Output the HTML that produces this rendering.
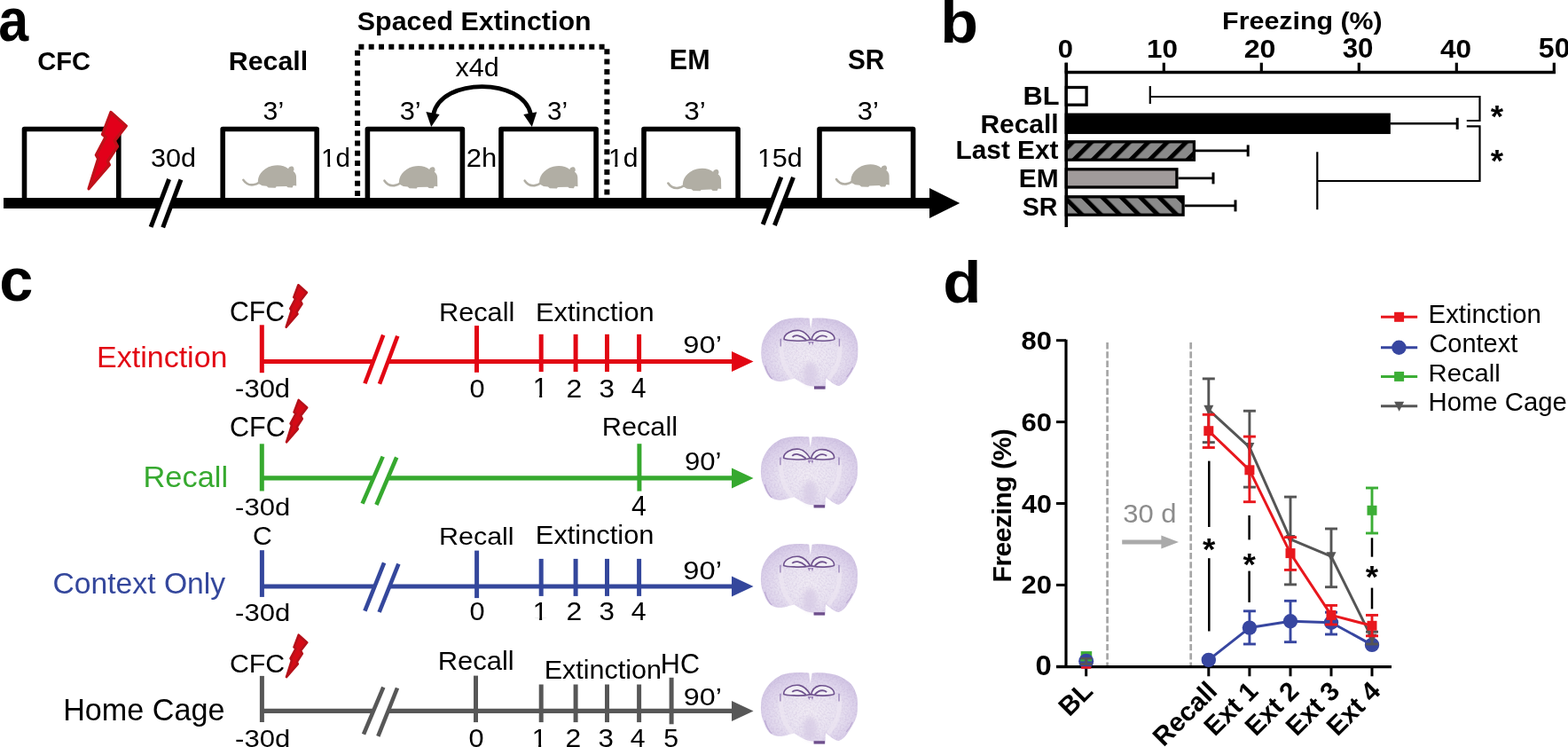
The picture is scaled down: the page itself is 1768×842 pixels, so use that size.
<!DOCTYPE html>
<html><head><meta charset="utf-8"><title>Figure</title>
<style>html,body{margin:0;padding:0;background:#fff;overflow:hidden;}svg{display:block;}text{font-family:"Liberation Sans", Arial, Helvetica, sans-serif;}</style>
</head><body>
<svg width="1768" height="842" viewBox="0 0 1768 842">
<rect width="1768" height="842" fill="#fff"/>
<defs><radialGradient id="brainGrad" cx="0.5" cy="0.55" r="0.58"><stop offset="0" stop-color="#f0ebf4"/><stop offset="0.5" stop-color="#e9e3f1"/><stop offset="0.8" stop-color="#ddd3eb"/><stop offset="1" stop-color="#d2c6e4"/></radialGradient><filter id="soft" x="-5%" y="-5%" width="110%" height="110%"><feGaussianBlur stdDeviation="0.7"/></filter><filter id="tex" x="0" y="0" width="100%" height="100%" color-interpolation-filters="sRGB"><feTurbulence type="fractalNoise" baseFrequency="0.5" numOctaves="2" seed="3" result="n"/><feColorMatrix in="n" type="matrix" values="0 0 0 0 0.62  0 0 0 0 0.52  0 0 0 0 0.74  0 0 0 1.6 -0.62" result="c"/><feComposite in="c" in2="SourceGraphic" operator="in"/></filter><filter id="soft2" x="-50%" y="-50%" width="200%" height="200%"><feGaussianBlur stdDeviation="2.5"/></filter></defs>
<text transform="translate(-1.83,46.20) scale(0.887,1)" x="0" y="0" font-size="68.70" font-weight="bold" fill="#000">a</text>
<text transform="translate(42.13,78.90) scale(0.962,1)" x="0" y="0" font-size="30.29" font-weight="bold" fill="#000">CFC</text>
<text transform="translate(257.83,79.10) scale(1.019,1)" x="0" y="0" font-size="29.79" font-weight="bold" fill="#000">Recall</text>
<text transform="translate(402.79,33.70) scale(1.012,1)" x="0" y="0" font-size="30.07" font-weight="bold" fill="#000">Spaced Extinction</text>
<text transform="translate(754.81,78.30) scale(0.963,1)" x="0" y="0" font-size="31.74" font-weight="bold" fill="#000">EM</text>
<text transform="translate(956.01,78.30) scale(0.951,1)" x="0" y="0" font-size="31.29" font-weight="bold" fill="#000">SR</text>
<text transform="translate(169.88,187.60) scale(1.036,1)" x="0" y="0" font-size="29.52" fill="#000">30d</text>
<clipPath id="nf1" clipPathUnits="userSpaceOnUse"><rect x="-29.79" y="-59.59" width="238.34" height="56.61"/><rect x="7.30" y="-59.59" width="2.98" height="74.48"/><rect x="16.68" y="-59.59" width="238.34" height="74.48"/></clipPath>
<text transform="translate(362.08,188.00) scale(0.993,1)" x="0" y="0" font-size="29.79" fill="#000" clip-path="url(#nf1)">1d</text>
<text transform="translate(525.75,188.40) scale(1.054,1)" x="0" y="0" font-size="29.38" fill="#000">2h</text>
<clipPath id="nf2" clipPathUnits="userSpaceOnUse"><rect x="-29.52" y="-59.03" width="236.14" height="56.08"/><rect x="7.23" y="-59.03" width="2.95" height="73.79"/><rect x="16.53" y="-59.03" width="236.14" height="73.79"/></clipPath>
<text transform="translate(685.94,188.00) scale(1.020,1)" x="0" y="0" font-size="29.52" fill="#000" clip-path="url(#nf2)">1d</text>
<clipPath id="nf3" clipPathUnits="userSpaceOnUse"><rect x="-29.52" y="-59.03" width="354.21" height="56.08"/><rect x="7.23" y="-59.03" width="2.95" height="73.79"/><rect x="16.53" y="-59.03" width="354.21" height="73.79"/></clipPath>
<text transform="translate(853.92,188.00) scale(1.031,1)" x="0" y="0" font-size="29.52" fill="#000" clip-path="url(#nf3)">15d</text>
<text transform="translate(296.59,135.40) scale(1.017,1)" x="0" y="0" font-size="29.71" fill="#000">3’</text>
<text transform="translate(450.67,135.40) scale(1.037,1)" x="0" y="0" font-size="29.71" fill="#000">3’</text>
<text x="617.00" y="135.40" font-size="29.71" fill="#000">3’</text>
<text transform="translate(771.24,135.40) scale(1.062,1)" x="0" y="0" font-size="29.71" fill="#000">3’</text>
<text transform="translate(966.76,135.40) scale(1.042,1)" x="0" y="0" font-size="29.71" fill="#000">3’</text>
<text transform="translate(513.44,85.90) scale(1.049,1)" x="0" y="0" font-size="29.10" fill="#000">x4d</text>
<path d="M27.5,226 L27.5,145.5 L133.8,145.5 L133.8,226" fill="none" stroke="#000" stroke-width="5.6" stroke-linejoin="round"/>
<path d="M251.2,226 L251.2,145.5 L357.2,145.5 L357.2,226" fill="none" stroke="#000" stroke-width="5.6" stroke-linejoin="round"/>
<path d="M414.4,226 L414.4,145.5 L521.4,145.5 L521.4,226" fill="none" stroke="#000" stroke-width="5.6" stroke-linejoin="round"/>
<path d="M565.0,226 L565.0,145.5 L672.1,145.5 L672.1,226" fill="none" stroke="#000" stroke-width="5.6" stroke-linejoin="round"/>
<path d="M726.0,226 L726.0,145.5 L832.1,145.5 L832.1,226" fill="none" stroke="#000" stroke-width="5.6" stroke-linejoin="round"/>
<path d="M924.0,226 L924.0,145.5 L1029.6,145.5 L1029.6,226" fill="none" stroke="#000" stroke-width="5.6" stroke-linejoin="round"/>
<g transform="translate(273.6,185.7) scale(1.0)"><path d="M0.8,17.2 Q5,23.5 12,22.6 Q16,22 18.5,20" fill="none" stroke="#b1aea4" stroke-width="2.6" stroke-linecap="round"/><path d="M17.5,21 C16,13 22,4 33,1.2 C40,-0.5 47,0.6 51.5,4.5 C52,1.5 56.5,0.8 57.5,3.2 C58.3,5 57.8,6.5 57,7.2 C59,8.5 60.2,10.5 60.4,13 L60.6,23.8 L57.2,23.2 L56,25.8 L51,25.6 L49.5,24.2 L38,24.6 L37,26 L29,25.8 L27,24 L22,23.5 Z" fill="#b1aea4"/></g>
<g transform="translate(432.7,186.5) scale(1.0)"><path d="M0.8,17.2 Q5,23.5 12,22.6 Q16,22 18.5,20" fill="none" stroke="#b1aea4" stroke-width="2.6" stroke-linecap="round"/><path d="M17.5,21 C16,13 22,4 33,1.2 C40,-0.5 47,0.6 51.5,4.5 C52,1.5 56.5,0.8 57.5,3.2 C58.3,5 57.8,6.5 57,7.2 C59,8.5 60.2,10.5 60.4,13 L60.6,23.8 L57.2,23.2 L56,25.8 L51,25.6 L49.5,24.2 L38,24.6 L37,26 L29,25.8 L27,24 L22,23.5 Z" fill="#b1aea4"/></g>
<g transform="translate(590.9,186.5) scale(1.0)"><path d="M0.8,17.2 Q5,23.5 12,22.6 Q16,22 18.5,20" fill="none" stroke="#b1aea4" stroke-width="2.6" stroke-linecap="round"/><path d="M17.5,21 C16,13 22,4 33,1.2 C40,-0.5 47,0.6 51.5,4.5 C52,1.5 56.5,0.8 57.5,3.2 C58.3,5 57.8,6.5 57,7.2 C59,8.5 60.2,10.5 60.4,13 L60.6,23.8 L57.2,23.2 L56,25.8 L51,25.6 L49.5,24.2 L38,24.6 L37,26 L29,25.8 L27,24 L22,23.5 Z" fill="#b1aea4"/></g>
<g transform="translate(752.6,189.3) scale(1.0)"><path d="M0.8,17.2 Q5,23.5 12,22.6 Q16,22 18.5,20" fill="none" stroke="#b1aea4" stroke-width="2.6" stroke-linecap="round"/><path d="M17.5,21 C16,13 22,4 33,1.2 C40,-0.5 47,0.6 51.5,4.5 C52,1.5 56.5,0.8 57.5,3.2 C58.3,5 57.8,6.5 57,7.2 C59,8.5 60.2,10.5 60.4,13 L60.6,23.8 L57.2,23.2 L56,25.8 L51,25.6 L49.5,24.2 L38,24.6 L37,26 L29,25.8 L27,24 L22,23.5 Z" fill="#b1aea4"/></g>
<g transform="translate(942.2,184.8) scale(1.0)"><path d="M0.8,17.2 Q5,23.5 12,22.6 Q16,22 18.5,20" fill="none" stroke="#b1aea4" stroke-width="2.6" stroke-linecap="round"/><path d="M17.5,21 C16,13 22,4 33,1.2 C40,-0.5 47,0.6 51.5,4.5 C52,1.5 56.5,0.8 57.5,3.2 C58.3,5 57.8,6.5 57,7.2 C59,8.5 60.2,10.5 60.4,13 L60.6,23.8 L57.2,23.2 L56,25.8 L51,25.6 L49.5,24.2 L38,24.6 L37,26 L29,25.8 L27,24 L22,23.5 Z" fill="#b1aea4"/></g>
<path d="M403.1,221 L403.1,52.8 L684.4,52.8 L684.4,221" fill="none" stroke="#000" stroke-width="6" stroke-dasharray="6 5.3"/>
<path d="M488.7,129 C497,87 590,87 598.5,129" fill="none" stroke="#000" stroke-width="4.75"/>
<polygon points="480.4,125.9 486.2,143.0 495.6,128.9" fill="#000"/>
<polygon points="590.3,128.9 599.8,143.0 605.3,126.2" fill="#000"/>
<line x1="4.0" y1="229.0" x2="1050.0" y2="229.0" stroke="#000" stroke-width="12"/>
<polygon points="1048.0,212.0 1082.2,229.0 1048.0,246.0" fill="#000"/>
<polygon points="177.7,236.0 183.0,222.0 196.6,222.0 191.4,236.0" fill="#fff"/>
<line x1="170.1" y1="255.9" x2="190.6" y2="202.0" stroke="#000" stroke-width="5"/>
<line x1="183.7" y1="256.3" x2="204.0" y2="202.5" stroke="#000" stroke-width="5"/>
<polygon points="866.8,236.0 872.2,222.0 885.9,222.0 880.4,236.0" fill="#fff"/>
<line x1="860.2" y1="253.0" x2="880.8" y2="199.6" stroke="#000" stroke-width="5"/>
<line x1="873.4" y1="254.0" x2="894.5" y2="199.9" stroke="#000" stroke-width="5"/>
<polygon points="125.0,126.5 142.3,142.0 129.2,158.6 132.5,165.1 121.5,181.8 123.3,186.0 100.1,212.7 110.8,178.8 108.4,174.7 119.1,154.5 115.5,151.5" fill="#e2001a" stroke="#bf111a" stroke-width="3.4" stroke-linejoin="round"/>
<text transform="translate(1060.26,48.30) scale(1.056,1)" x="0" y="0" font-size="66.21" font-weight="bold" fill="#000">b</text>
<text transform="translate(1378.12,32.60) scale(1.091,1)" x="0" y="0" font-size="27.86" font-weight="bold" fill="#000">Freezing (%)</text>
<text transform="translate(1192.66,65.30) scale(1.017,1)" x="0" y="0" font-size="30.43" font-weight="bold" fill="#000">0</text>
<text transform="translate(1292.96,65.30) scale(1.033,1)" x="0" y="0" font-size="30.43" font-weight="bold" fill="#000">10</text>
<text transform="translate(1402.67,65.30) scale(1.057,1)" x="0" y="0" font-size="30.43" font-weight="bold" fill="#000">20</text>
<text transform="translate(1513.72,65.30) scale(1.028,1)" x="0" y="0" font-size="30.43" font-weight="bold" fill="#000">30</text>
<text transform="translate(1623.93,65.30) scale(1.037,1)" x="0" y="0" font-size="30.43" font-weight="bold" fill="#000">40</text>
<text transform="translate(1734.84,65.30) scale(1.052,1)" x="0" y="0" font-size="30.43" font-weight="bold" fill="#000">50</text>
<line x1="1202.3" y1="70.7" x2="1202.3" y2="81.5" stroke="#000" stroke-width="3.2"/>
<line x1="1312.3" y1="70.7" x2="1312.3" y2="81.5" stroke="#000" stroke-width="3.2"/>
<line x1="1422.3" y1="70.7" x2="1422.3" y2="81.5" stroke="#000" stroke-width="3.2"/>
<line x1="1532.3" y1="70.7" x2="1532.3" y2="81.5" stroke="#000" stroke-width="3.2"/>
<line x1="1642.3" y1="70.7" x2="1642.3" y2="81.5" stroke="#000" stroke-width="3.2"/>
<line x1="1752.3" y1="70.7" x2="1752.3" y2="81.5" stroke="#000" stroke-width="3.2"/>
<line x1="1200.7" y1="81.5" x2="1754.0" y2="81.5" stroke="#000" stroke-width="3.4"/>
<line x1="1202.3" y1="70.7" x2="1202.3" y2="256.0" stroke="#000" stroke-width="3.6"/>
<defs><pattern id="hatchA" patternUnits="userSpaceOnUse" x="1205" y="0" width="15.1" height="15.1" patternTransform="translate(-6,0) rotate(45 1212 170)"><rect width="15.1" height="15.1" fill="#8a8a8a"/><rect x="0" y="0" width="5" height="15.1" fill="#000"/></pattern><pattern id="hatchB" patternUnits="userSpaceOnUse" x="1205" y="0" width="15.1" height="15.1" patternTransform="translate(4.4,0) rotate(-45 1212 232)"><rect width="15.1" height="15.1" fill="#8a8a8a"/><rect x="0" y="0" width="5" height="15.1" fill="#000"/></pattern></defs>
<rect x="1202.3" y="98.5" width="22.8" height="19.7" fill="#fff" stroke="#000" stroke-width="3.3"/>
<line x1="1567.8" y1="139.2" x2="1643.2" y2="139.2" stroke="#000" stroke-width="2.6"/>
<line x1="1643.2" y1="132.8" x2="1643.2" y2="145.8" stroke="#000" stroke-width="3"/>
<rect x="1202.3" y="129.2" width="363.9" height="20.2" fill="#000" stroke="#000" stroke-width="3.3"/>
<line x1="1348.0" y1="169.9" x2="1407.2" y2="169.9" stroke="#000" stroke-width="2.6"/>
<line x1="1407.2" y1="163.4" x2="1407.2" y2="176.4" stroke="#000" stroke-width="3"/>
<rect x="1202.3" y="159.8" width="144.1" height="20.4" fill="url(#hatchA)" stroke="#000" stroke-width="3.3"/>
<line x1="1328.6" y1="200.9" x2="1368.0" y2="200.9" stroke="#000" stroke-width="2.6"/>
<line x1="1368.0" y1="194.4" x2="1368.0" y2="207.4" stroke="#000" stroke-width="3"/>
<rect x="1202.3" y="190.8" width="124.6" height="20.2" fill="#a09b9b" stroke="#000" stroke-width="3.3"/>
<line x1="1335.8" y1="231.9" x2="1393.0" y2="231.9" stroke="#000" stroke-width="2.6"/>
<line x1="1393.0" y1="225.4" x2="1393.0" y2="238.4" stroke="#000" stroke-width="3"/>
<rect x="1202.3" y="221.8" width="131.8" height="20.4" fill="url(#hatchB)" stroke="#000" stroke-width="3.3"/>
<text transform="translate(1153.50,118.10) scale(1.056,1)" x="0" y="0" font-size="29.13" font-weight="bold" fill="#000">BL</text>
<text transform="translate(1105.45,149.90) scale(1.039,1)" x="0" y="0" font-size="28.83" font-weight="bold" fill="#000">Recall</text>
<text transform="translate(1077.56,178.70) scale(1.013,1)" x="0" y="0" font-size="29.42" font-weight="bold" fill="#000">Last Ext</text>
<text transform="translate(1148.86,211.10) scale(1.011,1)" x="0" y="0" font-size="29.57" font-weight="bold" fill="#000">EM</text>
<text x="1152.74" y="243.00" font-size="28.57" font-weight="bold" fill="#000">SR</text>
<path d="M1296.8,97 L1296.8,117 M1296.8,109 L1668.5,109 L1668.5,136 L1653.8,136" fill="none" stroke="#000" stroke-width="2.2"/>
<path d="M1653.8,142.3 L1668.5,142.3 L1668.5,204 L1485.3,204 M1485.3,171.3 L1485.3,236.3" fill="none" stroke="#000" stroke-width="2.2"/>
<text transform="translate(1680.82,142.94) scale(1.049,1)" x="0" y="0" font-size="35.14" font-weight="bold" fill="#000">*</text>
<text transform="translate(1680.82,193.24) scale(1.049,1)" x="0" y="0" font-size="35.14" font-weight="bold" fill="#000">*</text>
<text x="-0.66" y="338.80" font-size="68.52" font-weight="bold" fill="#000">c</text>
<line x1="295.0" y1="407.5" x2="826.0" y2="407.5" stroke="#e20613" stroke-width="5.2"/>
<polygon points="825.0,396.0 849.5,407.5 825.0,419.0" fill="#e20613"/>
<line x1="295.3" y1="366.3" x2="295.3" y2="420.2" stroke="#e20613" stroke-width="5"/>
<text transform="translate(108.98,413.50) scale(1.020,1)" x="0" y="0" font-size="33.38" fill="#e20613">Extinction</text>
<text transform="translate(258.99,361.70) scale(0.955,1)" x="0" y="0" font-size="31.71" fill="#000">CFC</text>
<polygon points="336.4,321.3 345.9,329.8 338.7,339.0 340.5,342.5 334.5,351.7 335.5,354.0 322.7,368.7 328.6,350.1 327.3,347.8 333.2,336.7 331.2,335.1" fill="#d40b16" stroke="#b51019" stroke-width="2.6" stroke-linejoin="round"/>
<text transform="translate(265.10,447.50) scale(1.060,1)" x="0" y="0" font-size="29.24" fill="#000">-30d</text>
<line x1="537.5" y1="367.1" x2="537.5" y2="419.8" stroke="#e20613" stroke-width="5"/>
<line x1="610.2" y1="376.8" x2="610.2" y2="419.1" stroke="#e20613" stroke-width="5"/>
<line x1="649.1" y1="376.8" x2="649.1" y2="419.1" stroke="#e20613" stroke-width="5"/>
<line x1="684.5" y1="376.8" x2="684.5" y2="419.1" stroke="#e20613" stroke-width="5"/>
<line x1="720.6" y1="376.8" x2="720.6" y2="419.1" stroke="#e20613" stroke-width="5"/>
<text transform="translate(494.94,361.60) scale(1.052,1)" x="0" y="0" font-size="29.24" fill="#000">Recall</text>
<text transform="translate(604.03,362.40) scale(1.050,1)" x="0" y="0" font-size="29.38" fill="#000">Extinction</text>
<text transform="translate(529.47,447.60) scale(1.020,1)" x="0" y="0" font-size="30.14" fill="#000">0</text>
<clipPath id="nf4" clipPathUnits="userSpaceOnUse"><rect x="-30.58" y="-61.16" width="122.32" height="58.10"/><rect x="7.49" y="-61.16" width="3.06" height="76.45"/><rect x="17.12" y="-61.16" width="122.32" height="76.45"/></clipPath>
<text transform="translate(600.65,447.60) scale(1.000,1)" x="0" y="0" font-size="30.58" fill="#000" clip-path="url(#nf4)">1</text>
<text transform="translate(638.51,447.60) scale(1.057,1)" x="0" y="0" font-size="30.14" fill="#000">2</text>
<text transform="translate(675.55,447.60) scale(1.038,1)" x="0" y="0" font-size="30.14" fill="#000">3</text>
<text transform="translate(711.75,447.60) scale(0.988,1)" x="0" y="0" font-size="30.58" fill="#000">4</text>
<text transform="translate(770.33,397.50) scale(1.197,1)" x="0" y="0" font-size="27.29" fill="#000">90’</text>
<polygon points="419.4,411.1 422.2,403.9 438.8,403.9 436.1,411.1" fill="#fff"/>
<line x1="411.4" y1="432.2" x2="432.2" y2="377.6" stroke="#e20613" stroke-width="4.6"/>
<line x1="428.0" y1="432.7" x2="448.3" y2="378.7" stroke="#e20613" stroke-width="4.6"/>
<g transform="translate(857.6,357.0)"><path d="M56.5,14 L55,1.8 C45,0.6 30,1 22,5 C12,10 4,20 1.5,31 C0,40 0.5,50 4,57 C6,63 9,68 12,70 C16,73 22,73.5 27,72.5 C31,71.5 35,70 38,69.5 C42,72 48,76 55,78 L60,78.5 L60.5,81.5 L73,81.5 L73.5,77 C73.5,74 73.5,71 74,69.5 C78,72 82,77 88,78 C93,77 97,72 100,67 C105,60 109,52 109.5,45 C110,37 110,30 108.5,26 C106,18 102,13 99.7,11.7 C94,7 88,4 82,3 C75,1.5 66,1 58.5,1.8 Z" fill="url(#brainGrad)" filter="url(#soft)"/><path d="M56.5,14 L55,1.8 C45,0.6 30,1 22,5 C12,10 4,20 1.5,31 C0,40 0.5,50 4,57 C6,63 9,68 12,70 C16,73 22,73.5 27,72.5 C31,71.5 35,70 38,69.5 C42,72 48,76 55,78 L60,78.5 L60.5,81.5 L73,81.5 L73.5,77 C73.5,74 73.5,71 74,69.5 C78,72 82,77 88,78 C93,77 97,72 100,67 C105,60 109,52 109.5,45 C110,37 110,30 108.5,26 C106,18 102,13 99.7,11.7 C94,7 88,4 82,3 C75,1.5 66,1 58.5,1.8 Z" fill="#fff" filter="url(#tex)" opacity="0.28"/><path d="M24,30 C22,45 27,58 35,68 M89,30 C91,45 86,58 78,68" fill="none" stroke="#ece6f2" stroke-width="5" stroke-linecap="round" opacity="0.75"/><ellipse cx="56" cy="64" rx="8" ry="13" fill="#d5c9e4" opacity="0.7" filter="url(#soft2)"/><path d="M26.5,25.5 C26,19 36,14.5 44,15.5 C49,16.5 53,20 56.5,26 C51,27 44,27.5 38,27 C33,26.8 29,26.6 26.5,25.5 Z" fill="#f1eef5" stroke="#6f528e" stroke-width="1.6"/><path d="M83.3,25.5 C84,19 75,15 67,16 C62,17 58.5,20.5 57.5,26 C63,27 70,27.5 75,27 C79,26.8 82,26.6 83.3,25.5 Z" fill="#f1eef5" stroke="#6f528e" stroke-width="1.6"/><path d="M36,23 C39,20 45,20.5 51.5,26 M61.5,26 C66,21 71,20.5 75,23" fill="none" stroke="#6f528e" stroke-width="1.8"/><path d="M53.5,28 L55,32 L57,28.5 L59,32 L60,28 Z" fill="#9f87bb"/><path d="M22.7,24.8 L22.7,33.5 M88.8,24.8 L88.8,33.5" stroke="#9f8abd" stroke-width="1.5"/><path d="M5,55 C7,62 10,67 13,70 M104,57 C102,62 99,66 97,68" fill="none" stroke="#bba8d2" stroke-width="1.2"/><rect x="60.4" y="78.3" width="12.5" height="3.3" fill="#6e4f8c"/></g>
<line x1="295.0" y1="538.9" x2="826.0" y2="538.9" stroke="#36a92f" stroke-width="5.2"/>
<polygon points="825.0,527.4 849.5,538.9 825.0,550.4" fill="#36a92f"/>
<line x1="295.3" y1="500.3" x2="295.3" y2="553.5" stroke="#36a92f" stroke-width="5"/>
<text transform="translate(161.55,548.60) scale(1.043,1)" x="0" y="0" font-size="32.97" fill="#36a92f">Recall</text>
<text x="258.99" y="492.00" font-size="30.57" fill="#000">CFC</text>
<polygon points="336.7,450.9 346.2,459.4 339.0,468.6 340.8,472.1 334.8,481.3 335.8,483.6 323.0,498.3 328.9,479.7 327.6,477.4 333.5,466.3 331.5,464.6" fill="#d40b16" stroke="#b51019" stroke-width="2.6" stroke-linejoin="round"/>
<text transform="translate(265.10,581.00) scale(1.102,1)" x="0" y="0" font-size="28.14" fill="#000">-30d</text>
<line x1="720.9" y1="500.2" x2="720.9" y2="553.6" stroke="#36a92f" stroke-width="5"/>
<text transform="translate(678.85,491.00) scale(1.054,1)" x="0" y="0" font-size="29.10" fill="#000">Recall</text>
<text transform="translate(712.04,580.80) scale(0.988,1)" x="0" y="0" font-size="30.58" fill="#000">4</text>
<text transform="translate(771.90,529.60) scale(1.072,1)" x="0" y="0" font-size="29.00" fill="#000">90’</text>
<polygon points="419.6,542.5 422.7,535.3 438.8,535.3 435.7,542.5" fill="#fff"/>
<line x1="408.6" y1="567.6" x2="431.7" y2="514.7" stroke="#36a92f" stroke-width="4.6"/>
<line x1="424.4" y1="569.0" x2="447.2" y2="515.5" stroke="#36a92f" stroke-width="4.6"/>
<g transform="translate(857.2,490.8)"><path d="M56.5,14 L55,1.8 C45,0.6 30,1 22,5 C12,10 4,20 1.5,31 C0,40 0.5,50 4,57 C6,63 9,68 12,70 C16,73 22,73.5 27,72.5 C31,71.5 35,70 38,69.5 C42,72 48,76 55,78 L60,78.5 L60.5,81.5 L73,81.5 L73.5,77 C73.5,74 73.5,71 74,69.5 C78,72 82,77 88,78 C93,77 97,72 100,67 C105,60 109,52 109.5,45 C110,37 110,30 108.5,26 C106,18 102,13 99.7,11.7 C94,7 88,4 82,3 C75,1.5 66,1 58.5,1.8 Z" fill="url(#brainGrad)" filter="url(#soft)"/><path d="M56.5,14 L55,1.8 C45,0.6 30,1 22,5 C12,10 4,20 1.5,31 C0,40 0.5,50 4,57 C6,63 9,68 12,70 C16,73 22,73.5 27,72.5 C31,71.5 35,70 38,69.5 C42,72 48,76 55,78 L60,78.5 L60.5,81.5 L73,81.5 L73.5,77 C73.5,74 73.5,71 74,69.5 C78,72 82,77 88,78 C93,77 97,72 100,67 C105,60 109,52 109.5,45 C110,37 110,30 108.5,26 C106,18 102,13 99.7,11.7 C94,7 88,4 82,3 C75,1.5 66,1 58.5,1.8 Z" fill="#fff" filter="url(#tex)" opacity="0.28"/><path d="M24,30 C22,45 27,58 35,68 M89,30 C91,45 86,58 78,68" fill="none" stroke="#ece6f2" stroke-width="5" stroke-linecap="round" opacity="0.75"/><ellipse cx="56" cy="64" rx="8" ry="13" fill="#d5c9e4" opacity="0.7" filter="url(#soft2)"/><path d="M26.5,25.5 C26,19 36,14.5 44,15.5 C49,16.5 53,20 56.5,26 C51,27 44,27.5 38,27 C33,26.8 29,26.6 26.5,25.5 Z" fill="#f1eef5" stroke="#6f528e" stroke-width="1.6"/><path d="M83.3,25.5 C84,19 75,15 67,16 C62,17 58.5,20.5 57.5,26 C63,27 70,27.5 75,27 C79,26.8 82,26.6 83.3,25.5 Z" fill="#f1eef5" stroke="#6f528e" stroke-width="1.6"/><path d="M36,23 C39,20 45,20.5 51.5,26 M61.5,26 C66,21 71,20.5 75,23" fill="none" stroke="#6f528e" stroke-width="1.8"/><path d="M53.5,28 L55,32 L57,28.5 L59,32 L60,28 Z" fill="#9f87bb"/><path d="M22.7,24.8 L22.7,33.5 M88.8,24.8 L88.8,33.5" stroke="#9f8abd" stroke-width="1.5"/><path d="M5,55 C7,62 10,67 13,70 M104,57 C102,62 99,66 97,68" fill="none" stroke="#bba8d2" stroke-width="1.2"/><rect x="60.4" y="78.3" width="12.5" height="3.3" fill="#6e4f8c"/></g>
<line x1="295.0" y1="661.0" x2="826.0" y2="661.0" stroke="#34479c" stroke-width="5.2"/>
<polygon points="825.0,649.5 849.5,661.0 825.0,672.5" fill="#34479c"/>
<line x1="295.4" y1="620.2" x2="295.4" y2="672.9" stroke="#34479c" stroke-width="5"/>
<text transform="translate(59.42,669.10) scale(1.022,1)" x="0" y="0" font-size="32.97" fill="#34479c">Context Only</text>
<text transform="translate(284.99,614.40) scale(1.050,1)" x="0" y="0" font-size="28.71" fill="#000">C</text>
<text transform="translate(265.10,700.20) scale(1.091,1)" x="0" y="0" font-size="28.41" fill="#000">-30d</text>
<line x1="537.6" y1="620.6" x2="537.6" y2="674.1" stroke="#34479c" stroke-width="5"/>
<line x1="610.2" y1="629.9" x2="610.2" y2="671.9" stroke="#34479c" stroke-width="5"/>
<line x1="649.1" y1="629.9" x2="649.1" y2="671.9" stroke="#34479c" stroke-width="5"/>
<line x1="684.5" y1="629.9" x2="684.5" y2="671.9" stroke="#34479c" stroke-width="5"/>
<line x1="720.6" y1="629.9" x2="720.6" y2="671.9" stroke="#34479c" stroke-width="5"/>
<text transform="translate(494.96,613.50) scale(1.068,1)" x="0" y="0" font-size="28.55" fill="#000">Recall</text>
<text transform="translate(603.83,613.00) scale(1.060,1)" x="0" y="0" font-size="29.10" fill="#000">Extinction</text>
<text transform="translate(529.47,699.30) scale(1.029,1)" x="0" y="0" font-size="29.86" fill="#000">0</text>
<clipPath id="nf5" clipPathUnits="userSpaceOnUse"><rect x="-30.29" y="-60.58" width="121.16" height="57.55"/><rect x="7.42" y="-60.58" width="3.03" height="75.72"/><rect x="16.96" y="-60.58" width="121.16" height="75.72"/></clipPath>
<text transform="translate(600.71,699.30) scale(1.000,1)" x="0" y="0" font-size="30.29" fill="#000" clip-path="url(#nf5)">1</text>
<text transform="translate(638.51,699.30) scale(1.067,1)" x="0" y="0" font-size="29.86" fill="#000">2</text>
<text transform="translate(675.55,699.30) scale(1.048,1)" x="0" y="0" font-size="29.86" fill="#000">3</text>
<text x="711.75" y="699.30" font-size="30.29" fill="#000">4</text>
<text transform="translate(770.33,652.60) scale(1.110,1)" x="0" y="0" font-size="29.43" fill="#000">90’</text>
<polygon points="421.0,664.6 423.9,657.4 440.7,657.4 437.8,664.6" fill="#fff"/>
<line x1="411.4" y1="688.6" x2="433.1" y2="634.3" stroke="#34479c" stroke-width="4.6"/>
<line x1="427.6" y1="690.0" x2="449.4" y2="635.7" stroke="#34479c" stroke-width="4.6"/>
<g transform="translate(857.2,611.9)"><path d="M56.5,14 L55,1.8 C45,0.6 30,1 22,5 C12,10 4,20 1.5,31 C0,40 0.5,50 4,57 C6,63 9,68 12,70 C16,73 22,73.5 27,72.5 C31,71.5 35,70 38,69.5 C42,72 48,76 55,78 L60,78.5 L60.5,81.5 L73,81.5 L73.5,77 C73.5,74 73.5,71 74,69.5 C78,72 82,77 88,78 C93,77 97,72 100,67 C105,60 109,52 109.5,45 C110,37 110,30 108.5,26 C106,18 102,13 99.7,11.7 C94,7 88,4 82,3 C75,1.5 66,1 58.5,1.8 Z" fill="url(#brainGrad)" filter="url(#soft)"/><path d="M56.5,14 L55,1.8 C45,0.6 30,1 22,5 C12,10 4,20 1.5,31 C0,40 0.5,50 4,57 C6,63 9,68 12,70 C16,73 22,73.5 27,72.5 C31,71.5 35,70 38,69.5 C42,72 48,76 55,78 L60,78.5 L60.5,81.5 L73,81.5 L73.5,77 C73.5,74 73.5,71 74,69.5 C78,72 82,77 88,78 C93,77 97,72 100,67 C105,60 109,52 109.5,45 C110,37 110,30 108.5,26 C106,18 102,13 99.7,11.7 C94,7 88,4 82,3 C75,1.5 66,1 58.5,1.8 Z" fill="#fff" filter="url(#tex)" opacity="0.28"/><path d="M24,30 C22,45 27,58 35,68 M89,30 C91,45 86,58 78,68" fill="none" stroke="#ece6f2" stroke-width="5" stroke-linecap="round" opacity="0.75"/><ellipse cx="56" cy="64" rx="8" ry="13" fill="#d5c9e4" opacity="0.7" filter="url(#soft2)"/><path d="M26.5,25.5 C26,19 36,14.5 44,15.5 C49,16.5 53,20 56.5,26 C51,27 44,27.5 38,27 C33,26.8 29,26.6 26.5,25.5 Z" fill="#f1eef5" stroke="#6f528e" stroke-width="1.6"/><path d="M83.3,25.5 C84,19 75,15 67,16 C62,17 58.5,20.5 57.5,26 C63,27 70,27.5 75,27 C79,26.8 82,26.6 83.3,25.5 Z" fill="#f1eef5" stroke="#6f528e" stroke-width="1.6"/><path d="M36,23 C39,20 45,20.5 51.5,26 M61.5,26 C66,21 71,20.5 75,23" fill="none" stroke="#6f528e" stroke-width="1.8"/><path d="M53.5,28 L55,32 L57,28.5 L59,32 L60,28 Z" fill="#9f87bb"/><path d="M22.7,24.8 L22.7,33.5 M88.8,24.8 L88.8,33.5" stroke="#9f8abd" stroke-width="1.5"/><path d="M5,55 C7,62 10,67 13,70 M104,57 C102,62 99,66 97,68" fill="none" stroke="#bba8d2" stroke-width="1.2"/><rect x="60.4" y="78.3" width="12.5" height="3.3" fill="#6e4f8c"/></g>
<line x1="295.0" y1="801.4" x2="826.0" y2="801.4" stroke="#575757" stroke-width="5.2"/>
<polygon points="825.0,789.9 849.5,801.4 825.0,812.9" fill="#575757"/>
<line x1="295.4" y1="761.9" x2="295.4" y2="814.0" stroke="#575757" stroke-width="5"/>
<text transform="translate(71.17,811.90) scale(0.977,1)" x="0" y="0" font-size="35.00" fill="#000">Home Cage</text>
<text x="258.99" y="758.00" font-size="30.29" fill="#000">CFC</text>
<polygon points="336.7,715.7 346.2,724.2 339.0,733.4 340.8,736.9 334.8,746.1 335.8,748.4 323.0,763.1 328.9,744.5 327.6,742.2 333.5,731.1 331.5,729.5" fill="#d40b16" stroke="#b51019" stroke-width="2.6" stroke-linejoin="round"/>
<text transform="translate(265.10,841.50) scale(1.097,1)" x="0" y="0" font-size="28.28" fill="#000">-30d</text>
<line x1="536.5" y1="761.6" x2="536.5" y2="814.1" stroke="#575757" stroke-width="5"/>
<line x1="610.2" y1="771.5" x2="610.2" y2="814.1" stroke="#575757" stroke-width="5"/>
<line x1="649.1" y1="771.5" x2="649.1" y2="814.1" stroke="#575757" stroke-width="5"/>
<line x1="684.5" y1="771.5" x2="684.5" y2="814.1" stroke="#575757" stroke-width="5"/>
<line x1="720.6" y1="771.5" x2="720.6" y2="814.1" stroke="#575757" stroke-width="5"/>
<line x1="757.1" y1="763.8" x2="757.1" y2="816.3" stroke="#575757" stroke-width="5"/>
<text transform="translate(493.72,755.20) scale(1.074,1)" x="0" y="0" font-size="28.83" fill="#000">Recall</text>
<text transform="translate(613.66,765.40) scale(1.059,1)" x="0" y="0" font-size="28.83" fill="#000">Extinction</text>
<text x="744.83" y="759.40" font-size="30.57" fill="#000">HC</text>
<text transform="translate(528.47,841.80) scale(1.034,1)" x="0" y="0" font-size="29.71" fill="#000">0</text>
<clipPath id="nf6" clipPathUnits="userSpaceOnUse"><rect x="-30.14" y="-60.29" width="120.58" height="57.28"/><rect x="7.39" y="-60.29" width="3.01" height="75.36"/><rect x="16.88" y="-60.29" width="120.58" height="75.36"/></clipPath>
<text transform="translate(599.74,841.80) scale(1.000,1)" x="0" y="0" font-size="30.14" fill="#000" clip-path="url(#nf6)">1</text>
<text transform="translate(637.51,841.80) scale(1.072,1)" x="0" y="0" font-size="29.71" fill="#000">2</text>
<text transform="translate(674.55,841.80) scale(1.053,1)" x="0" y="0" font-size="29.71" fill="#000">3</text>
<text x="710.75" y="841.80" font-size="30.14" fill="#000">4</text>
<text x="748.23" y="841.80" font-size="30.14" fill="#000">5</text>
<text transform="translate(770.75,794.60) scale(1.166,1)" x="0" y="0" font-size="27.71" fill="#000">90’</text>
<polygon points="419.5,805.0 422.6,797.8 439.1,797.8 436.2,805.0" fill="#fff"/>
<line x1="410.0" y1="827.6" x2="432.3" y2="774.7" stroke="#575757" stroke-width="4.6"/>
<line x1="426.3" y1="829.8" x2="448.0" y2="775.5" stroke="#575757" stroke-width="4.6"/>
<g transform="translate(857.2,756.9)"><path d="M56.5,14 L55,1.8 C45,0.6 30,1 22,5 C12,10 4,20 1.5,31 C0,40 0.5,50 4,57 C6,63 9,68 12,70 C16,73 22,73.5 27,72.5 C31,71.5 35,70 38,69.5 C42,72 48,76 55,78 L60,78.5 L60.5,81.5 L73,81.5 L73.5,77 C73.5,74 73.5,71 74,69.5 C78,72 82,77 88,78 C93,77 97,72 100,67 C105,60 109,52 109.5,45 C110,37 110,30 108.5,26 C106,18 102,13 99.7,11.7 C94,7 88,4 82,3 C75,1.5 66,1 58.5,1.8 Z" fill="url(#brainGrad)" filter="url(#soft)"/><path d="M56.5,14 L55,1.8 C45,0.6 30,1 22,5 C12,10 4,20 1.5,31 C0,40 0.5,50 4,57 C6,63 9,68 12,70 C16,73 22,73.5 27,72.5 C31,71.5 35,70 38,69.5 C42,72 48,76 55,78 L60,78.5 L60.5,81.5 L73,81.5 L73.5,77 C73.5,74 73.5,71 74,69.5 C78,72 82,77 88,78 C93,77 97,72 100,67 C105,60 109,52 109.5,45 C110,37 110,30 108.5,26 C106,18 102,13 99.7,11.7 C94,7 88,4 82,3 C75,1.5 66,1 58.5,1.8 Z" fill="#fff" filter="url(#tex)" opacity="0.28"/><path d="M24,30 C22,45 27,58 35,68 M89,30 C91,45 86,58 78,68" fill="none" stroke="#ece6f2" stroke-width="5" stroke-linecap="round" opacity="0.75"/><ellipse cx="56" cy="64" rx="8" ry="13" fill="#d5c9e4" opacity="0.7" filter="url(#soft2)"/><path d="M26.5,25.5 C26,19 36,14.5 44,15.5 C49,16.5 53,20 56.5,26 C51,27 44,27.5 38,27 C33,26.8 29,26.6 26.5,25.5 Z" fill="#f1eef5" stroke="#6f528e" stroke-width="1.6"/><path d="M83.3,25.5 C84,19 75,15 67,16 C62,17 58.5,20.5 57.5,26 C63,27 70,27.5 75,27 C79,26.8 82,26.6 83.3,25.5 Z" fill="#f1eef5" stroke="#6f528e" stroke-width="1.6"/><path d="M36,23 C39,20 45,20.5 51.5,26 M61.5,26 C66,21 71,20.5 75,23" fill="none" stroke="#6f528e" stroke-width="1.8"/><path d="M53.5,28 L55,32 L57,28.5 L59,32 L60,28 Z" fill="#9f87bb"/><path d="M22.7,24.8 L22.7,33.5 M88.8,24.8 L88.8,33.5" stroke="#9f8abd" stroke-width="1.5"/><path d="M5,55 C7,62 10,67 13,70 M104,57 C102,62 99,66 97,68" fill="none" stroke="#bba8d2" stroke-width="1.2"/><rect x="60.4" y="78.3" width="12.5" height="3.3" fill="#6e4f8c"/></g>
<text transform="translate(1063.37,341.00) scale(1.057,1)" x="0" y="0" font-size="66.90" font-weight="bold" fill="#000">d</text>
<line x1="1202.0" y1="382.8" x2="1202.0" y2="753.0" stroke="#000" stroke-width="3.2"/>
<line x1="1191.0" y1="751.6" x2="1569.0" y2="751.6" stroke="#000" stroke-width="3.2"/>
<line x1="1191.0" y1="751.3" x2="1202.0" y2="751.3" stroke="#000" stroke-width="3"/>
<text transform="translate(1167.39,761.30) scale(1.080,1)" x="0" y="0" font-size="30.42" font-weight="bold" fill="#000">0</text>
<line x1="1191.0" y1="659.4" x2="1202.0" y2="659.4" stroke="#000" stroke-width="3"/>
<text transform="translate(1151.41,669.40) scale(1.019,1)" x="0" y="0" font-size="30.42" font-weight="bold" fill="#000">20</text>
<line x1="1191.0" y1="567.5" x2="1202.0" y2="567.5" stroke="#000" stroke-width="3"/>
<text x="1152.04" y="577.50" font-size="30.42" font-weight="bold" fill="#000">40</text>
<line x1="1191.0" y1="475.6" x2="1202.0" y2="475.6" stroke="#000" stroke-width="3"/>
<text transform="translate(1151.41,485.60) scale(1.019,1)" x="0" y="0" font-size="30.42" font-weight="bold" fill="#000">60</text>
<line x1="1191.0" y1="383.7" x2="1202.0" y2="383.7" stroke="#000" stroke-width="3"/>
<text transform="translate(1151.57,393.70) scale(1.015,1)" x="0" y="0" font-size="30.42" font-weight="bold" fill="#000">80</text>
<line x1="1224.7" y1="751.6" x2="1224.7" y2="762.3" stroke="#000" stroke-width="3"/>
<line x1="1362.8" y1="751.6" x2="1362.8" y2="762.3" stroke="#000" stroke-width="3"/>
<line x1="1408.9" y1="751.6" x2="1408.9" y2="762.3" stroke="#000" stroke-width="3"/>
<line x1="1455.0" y1="751.6" x2="1455.0" y2="762.3" stroke="#000" stroke-width="3"/>
<line x1="1501.0" y1="751.6" x2="1501.0" y2="762.3" stroke="#000" stroke-width="3"/>
<line x1="1547.0" y1="751.6" x2="1547.0" y2="762.3" stroke="#000" stroke-width="3"/>
<line x1="1248.6" y1="386.0" x2="1248.6" y2="750.0" stroke="#a6a6a6" stroke-width="2.7" stroke-dasharray="7.4 2.9"/>
<line x1="1342.7" y1="386.0" x2="1342.7" y2="750.0" stroke="#a6a6a6" stroke-width="2.7" stroke-dasharray="7.4 2.9"/>
<text transform="translate(1266.16,589.00) scale(1.035,1)" x="0" y="0" font-size="29.93" fill="#8c8c8c">30 d</text>
<line x1="1265.2" y1="610.9" x2="1311.0" y2="610.9" stroke="#aaaaaa" stroke-width="5"/>
<polygon points="1309.4,603.4 1329.0,610.9 1309.4,618.4" fill="#aaaaaa"/>
<text transform="translate(1139.70,656.46) rotate(-90)" x="0" y="0" font-size="30.21" font-weight="bold" letter-spacing="-0.58" fill="#000">Freezing (%)</text>
<text transform="translate(1233.90,780.70) rotate(-45)" x="0" y="0" font-size="29.8" font-weight="bold" text-anchor="end">BL</text>
<text transform="translate(1374.10,780.70) rotate(-45)" x="0" y="0" font-size="29.8" font-weight="bold" text-anchor="end">Recall</text>
<text transform="translate(1420.20,780.70) rotate(-45)" x="0" y="0" font-size="29.8" font-weight="bold" text-anchor="end">Ext 1</text>
<text transform="translate(1466.30,780.70) rotate(-45)" x="0" y="0" font-size="29.8" font-weight="bold" text-anchor="end">Ext 2</text>
<text transform="translate(1512.30,780.70) rotate(-45)" x="0" y="0" font-size="29.8" font-weight="bold" text-anchor="end">Ext 3</text>
<text transform="translate(1558.30,780.70) rotate(-45)" x="0" y="0" font-size="29.8" font-weight="bold" text-anchor="end">Ext 4</text>
<line x1="1363.3" y1="519.6" x2="1363.3" y2="594.0" stroke="#000" stroke-width="2.5"/>
<line x1="1363.3" y1="629.2" x2="1363.3" y2="711.5" stroke="#000" stroke-width="2.5"/>
<text transform="translate(1356.12,630.54) scale(1.049,1)" x="0" y="0" font-size="35.14" font-weight="bold" fill="#000">*</text>
<line x1="1408.6" y1="580.9" x2="1408.6" y2="608.4" stroke="#000" stroke-width="2.5"/>
<line x1="1408.6" y1="643.6" x2="1408.6" y2="678.9" stroke="#000" stroke-width="2.5"/>
<text transform="translate(1401.42,648.24) scale(1.049,1)" x="0" y="0" font-size="35.14" font-weight="bold" fill="#000">*</text>
<line x1="1547.0" y1="606.3" x2="1547.0" y2="627.7" stroke="#000" stroke-width="2.5"/>
<line x1="1547.0" y1="662.6" x2="1547.0" y2="686.4" stroke="#000" stroke-width="2.5"/>
<text transform="translate(1539.82,662.04) scale(1.049,1)" x="0" y="0" font-size="35.14" font-weight="bold" fill="#000">*</text>
<line x1="1362.8" y1="743.9" x2="1362.8" y2="743.9" stroke="#3746a0" stroke-width="2.9"/>
<line x1="1355.8" y1="743.9" x2="1369.8" y2="743.9" stroke="#3746a0" stroke-width="2.9"/>
<line x1="1355.8" y1="743.9" x2="1369.8" y2="743.9" stroke="#3746a0" stroke-width="2.9"/>
<line x1="1408.9" y1="726.0" x2="1408.9" y2="688.8" stroke="#3746a0" stroke-width="2.9"/>
<line x1="1401.9" y1="726.0" x2="1415.9" y2="726.0" stroke="#3746a0" stroke-width="2.9"/>
<line x1="1401.9" y1="688.8" x2="1415.9" y2="688.8" stroke="#3746a0" stroke-width="2.9"/>
<line x1="1455.0" y1="723.7" x2="1455.0" y2="677.3" stroke="#3746a0" stroke-width="2.9"/>
<line x1="1448.0" y1="723.7" x2="1462.0" y2="723.7" stroke="#3746a0" stroke-width="2.9"/>
<line x1="1448.0" y1="677.3" x2="1462.0" y2="677.3" stroke="#3746a0" stroke-width="2.9"/>
<line x1="1501.0" y1="715.0" x2="1501.0" y2="690.2" stroke="#3746a0" stroke-width="2.9"/>
<line x1="1494.0" y1="715.0" x2="1508.0" y2="715.0" stroke="#3746a0" stroke-width="2.9"/>
<line x1="1494.0" y1="690.2" x2="1508.0" y2="690.2" stroke="#3746a0" stroke-width="2.9"/>
<line x1="1547.0" y1="726.9" x2="1547.0" y2="726.9" stroke="#3746a0" stroke-width="2.9"/>
<line x1="1540.0" y1="726.9" x2="1554.0" y2="726.9" stroke="#3746a0" stroke-width="2.9"/>
<line x1="1540.0" y1="726.9" x2="1554.0" y2="726.9" stroke="#3746a0" stroke-width="2.9"/>
<polyline points="1362.8,743.9 1408.9,707.6 1455.0,700.3 1501.0,701.7 1547.0,726.9" fill="none" stroke="#3746a0" stroke-width="3" stroke-linejoin="round"/>
<circle cx="1362.8" cy="743.9" r="8.2" fill="#3746a0"/>
<circle cx="1408.9" cy="707.6" r="8.2" fill="#3746a0"/>
<circle cx="1455.0" cy="700.3" r="8.2" fill="#3746a0"/>
<circle cx="1501.0" cy="701.7" r="8.2" fill="#3746a0"/>
<circle cx="1547.0" cy="726.9" r="8.2" fill="#3746a0"/>
<line x1="1362.8" y1="498.6" x2="1362.8" y2="426.9" stroke="#555555" stroke-width="2.9"/>
<line x1="1355.8" y1="498.6" x2="1369.8" y2="498.6" stroke="#555555" stroke-width="2.9"/>
<line x1="1355.8" y1="426.9" x2="1369.8" y2="426.9" stroke="#555555" stroke-width="2.9"/>
<line x1="1408.9" y1="549.1" x2="1408.9" y2="463.2" stroke="#555555" stroke-width="2.9"/>
<line x1="1401.9" y1="549.1" x2="1415.9" y2="549.1" stroke="#555555" stroke-width="2.9"/>
<line x1="1401.9" y1="463.2" x2="1415.9" y2="463.2" stroke="#555555" stroke-width="2.9"/>
<line x1="1455.0" y1="658.9" x2="1455.0" y2="560.1" stroke="#555555" stroke-width="2.9"/>
<line x1="1448.0" y1="658.9" x2="1462.0" y2="658.9" stroke="#555555" stroke-width="2.9"/>
<line x1="1448.0" y1="560.1" x2="1462.0" y2="560.1" stroke="#555555" stroke-width="2.9"/>
<line x1="1501.0" y1="661.7" x2="1501.0" y2="596.0" stroke="#555555" stroke-width="2.9"/>
<line x1="1494.0" y1="661.7" x2="1508.0" y2="661.7" stroke="#555555" stroke-width="2.9"/>
<line x1="1494.0" y1="596.0" x2="1508.0" y2="596.0" stroke="#555555" stroke-width="2.9"/>
<line x1="1547.0" y1="726.0" x2="1547.0" y2="712.2" stroke="#555555" stroke-width="2.9"/>
<line x1="1540.0" y1="726.0" x2="1554.0" y2="726.0" stroke="#555555" stroke-width="2.9"/>
<line x1="1540.0" y1="712.2" x2="1554.0" y2="712.2" stroke="#555555" stroke-width="2.9"/>
<polyline points="1362.8,461.8 1408.9,504.1 1455.0,607.9 1501.0,627.2 1547.0,719.6" fill="none" stroke="#555555" stroke-width="3" stroke-linejoin="round"/>
<polygon points="1357.3,456.8 1368.3,456.8 1362.8,467.8" fill="#555555"/>
<polygon points="1403.4,499.1 1414.4,499.1 1408.9,510.1" fill="#555555"/>
<polygon points="1449.5,602.9 1460.5,602.9 1455.0,613.9" fill="#555555"/>
<polygon points="1495.5,622.2 1506.5,622.2 1501.0,633.2" fill="#555555"/>
<polygon points="1541.5,714.6 1552.5,714.6 1547.0,725.6" fill="#555555"/>
<line x1="1362.8" y1="504.5" x2="1362.8" y2="467.3" stroke="#e8171d" stroke-width="2.9"/>
<line x1="1355.8" y1="504.5" x2="1369.8" y2="504.5" stroke="#e8171d" stroke-width="2.9"/>
<line x1="1355.8" y1="467.3" x2="1369.8" y2="467.3" stroke="#e8171d" stroke-width="2.9"/>
<line x1="1408.9" y1="565.7" x2="1408.9" y2="492.1" stroke="#e8171d" stroke-width="2.9"/>
<line x1="1401.9" y1="565.7" x2="1415.9" y2="565.7" stroke="#e8171d" stroke-width="2.9"/>
<line x1="1401.9" y1="492.1" x2="1415.9" y2="492.1" stroke="#e8171d" stroke-width="2.9"/>
<line x1="1455.0" y1="642.4" x2="1455.0" y2="605.6" stroke="#e8171d" stroke-width="2.9"/>
<line x1="1448.0" y1="642.4" x2="1462.0" y2="642.4" stroke="#e8171d" stroke-width="2.9"/>
<line x1="1448.0" y1="605.6" x2="1462.0" y2="605.6" stroke="#e8171d" stroke-width="2.9"/>
<line x1="1501.0" y1="704.0" x2="1501.0" y2="682.4" stroke="#e8171d" stroke-width="2.9"/>
<line x1="1494.0" y1="704.0" x2="1508.0" y2="704.0" stroke="#e8171d" stroke-width="2.9"/>
<line x1="1494.0" y1="682.4" x2="1508.0" y2="682.4" stroke="#e8171d" stroke-width="2.9"/>
<line x1="1547.0" y1="716.8" x2="1547.0" y2="693.4" stroke="#e8171d" stroke-width="2.9"/>
<line x1="1540.0" y1="716.8" x2="1554.0" y2="716.8" stroke="#e8171d" stroke-width="2.9"/>
<line x1="1540.0" y1="693.4" x2="1554.0" y2="693.4" stroke="#e8171d" stroke-width="2.9"/>
<polyline points="1362.8,485.7 1408.9,529.8 1455.0,623.6 1501.0,693.4 1547.0,705.3" fill="none" stroke="#e8171d" stroke-width="3" stroke-linejoin="round"/>
<rect x="1357.3" y="480.2" width="11" height="11" fill="#e8171d"/>
<rect x="1403.4" y="524.3" width="11" height="11" fill="#e8171d"/>
<rect x="1449.5" y="618.1" width="11" height="11" fill="#e8171d"/>
<rect x="1495.5" y="687.9" width="11" height="11" fill="#e8171d"/>
<rect x="1541.5" y="699.8" width="11" height="11" fill="#e8171d"/>
<line x1="1547.0" y1="601.0" x2="1547.0" y2="550.0" stroke="#3cae36" stroke-width="2.9"/>
<line x1="1540.0" y1="601.0" x2="1554.0" y2="601.0" stroke="#3cae36" stroke-width="2.9"/>
<line x1="1540.0" y1="550.0" x2="1554.0" y2="550.0" stroke="#3cae36" stroke-width="2.9"/>
<rect x="1541.5" y="569.8" width="11" height="11" fill="#3cae36"/>
<rect x="1219.2" y="742.5" width="11" height="11" fill="#e8171d"/>
<rect x="1218.7" y="734.1" width="12.5" height="12.5" fill="#3cae36"/>
<circle cx="1224.7" cy="745.3" r="8.5" fill="#3746a0"/>
<line x1="1224.7" y1="742.3" x2="1224.7" y2="748.5" stroke="#555555" stroke-width="2.6"/>
<line x1="1218.2" y1="742.3" x2="1231.2" y2="742.3" stroke="#555555" stroke-width="2.6"/>
<line x1="1218.2" y1="748.5" x2="1231.2" y2="748.5" stroke="#555555" stroke-width="2.6"/>
<line x1="1218.2" y1="744.4" x2="1222.9" y2="744.4" stroke="#3cae36" stroke-width="2.0"/>
<line x1="1226.5" y1="744.4" x2="1231.2" y2="744.4" stroke="#3cae36" stroke-width="2.0"/>
<rect x="1219.2" y="751.2" width="11" height="2.4" fill="#e8171d"/>
<line x1="1557.0" y1="357.3" x2="1598.2" y2="357.3" stroke="#e8171d" stroke-width="3"/>
<rect x="1572.1" y="351.8" width="11" height="11" fill="#e8171d"/>
<text x="1610.56" y="363.50" font-size="29.38" fill="#000">Extinction</text>
<line x1="1557.0" y1="391.8" x2="1598.2" y2="391.8" stroke="#3746a0" stroke-width="3"/>
<circle cx="1577.4" cy="391.8" r="8.2" fill="#3746a0"/>
<text transform="translate(1611.45,396.70) scale(0.975,1)" x="0" y="0" font-size="29.71" fill="#000">Context</text>
<line x1="1557.0" y1="424.4" x2="1598.2" y2="424.4" stroke="#3cae36" stroke-width="3"/>
<rect x="1572.1" y="418.9" width="11" height="11" fill="#3cae36"/>
<text transform="translate(1610.56,429.60) scale(1.034,1)" x="0" y="0" font-size="28.28" fill="#000">Recall</text>
<line x1="1557.0" y1="457.7" x2="1598.2" y2="457.7" stroke="#555555" stroke-width="3"/>
<polygon points="1572.1,452.7 1583.1,452.7 1577.6,463.7" fill="#555555"/>
<text x="1610.55" y="463.20" font-size="29.29" fill="#000">Home Cage</text>
</svg>
</body></html>
